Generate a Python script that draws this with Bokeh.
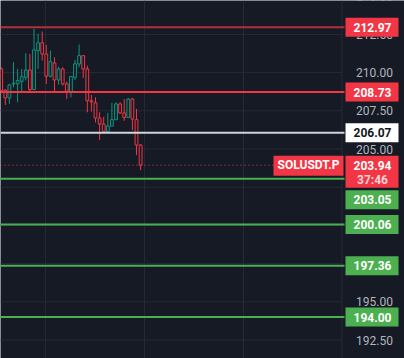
from bokeh.plotting import figure
from bokeh.models import Range1d, ColumnDataSource
from bokeh.core.properties import value
from bokeh.embed import file_html
from bokeh.resources import INLINE

# ---------------- data ----------------
symbol = "SOLUSDT.P"
countdown = "37:46"
last_price = 203.94
last_label = "203.94"

opens = [210.24, 208.86, 208.34, 209.26, 209.26, 209.43, 209.69, 210.17, 208.89, 211.44,
         211.95, 211.22, 209.76, 210.63, 209.52, 210.24, 209.26, 208.71, 209.69, 210.57,
         211.11, 210.24, 208.16, 208.03, 207.03, 206.63, 206.15, 206.50, 206.92, 207.95,
         207.36, 207.07, 208.27, 206.92, 205.26]
highs = [210.35, 208.90, 209.26, 210.68, 210.24, 210.24, 211.27, 211.22, 212.86, 212.54,
         212.69, 211.81, 211.44, 211.01, 210.39, 210.35, 209.41, 209.74, 210.83, 211.84,
         211.11, 210.46, 208.54, 208.38, 207.40, 207.11, 207.36, 208.01, 208.05, 208.05,
         208.27, 208.34, 208.34, 207.62, 205.32]
lows = [208.80, 207.88, 207.95, 209.04, 208.05, 208.78, 209.48, 208.75, 208.89, 210.24,
        210.79, 209.26, 209.69, 208.78, 209.21, 209.15, 208.27, 208.38, 209.52, 210.35,
        209.65, 207.40, 207.46, 206.74, 205.58, 206.15, 206.15, 206.50, 206.90, 207.29,
        206.85, 207.03, 206.24, 204.60, 203.62]
closes = [208.82, 208.34, 209.19, 209.30, 209.48, 209.74, 210.17, 208.89, 211.49, 211.95,
          211.22, 209.76, 210.72, 209.52, 210.24, 209.26, 208.78, 209.74, 210.57, 211.11,
          210.24, 208.16, 208.08, 207.03, 206.63, 206.15, 206.50, 206.92, 207.95, 207.36,
          207.07, 208.27, 206.96, 205.26, 203.94]

level_prices = [212.97, 208.73, 206.07, 203.05, 200.06, 197.36, 194.00]
level_labels = ["212.97", "208.73", "206.07", "203.05", "200.06", "197.36", "194.00"]

axis_ticks = [215.0, 212.5, 210.0, 207.5, 205.0, 202.5, 200.0, 197.5, 195.0, 192.5]
# 202.50 is hidden by the price labels in the reference
axis_tick_labels = ["215.00", "212.50", "210.00", "207.50", "205.00",
                    "", "200.00", "197.50", "195.00", "192.50"]

time_grid = [10.8, 34.95, 59.1]  # candle-index positions of the time grid lines

# ---------------- styles ----------------
BG = "#161a25"
GRID = "#262a36"
UP = "#089981"
DOWN = "#f23645"
AXIS_TEXT = "#b2b5be"
FONT = "Roboto"

level_line_colors = ["#b5303a", "#f23645", "#d1d4dc", "#4caf50", "#4caf50", "#4caf50", "#4caf50"]
level_box_colors = ["#f23645", "#f23645", "#ffffff", "#4caf50", "#4caf50", "#4caf50", "#4caf50"]
level_text_colors = ["#ffffff", "#ffffff", "#131722", "#ffffff", "#ffffff", "#ffffff", "#ffffff"]
level_label_shift_px = [0, 0, 0, 21, 0, 0, 0]  # pushed down to avoid the last-price label

Y0, Y1 = 191.29, 214.72
W, H = 404, 358
PX = H / (Y1 - Y0)
X0 = -0.171
X1 = X0 + W / 4.1

p = figure(width=W, height=H, x_range=Range1d(X0, X1), y_range=Range1d(Y0, Y1),
           output_backend="svg", toolbar_location=None, min_border=0,
           x_axis_location=None, y_axis_location=None,
           background_fill_color=BG, border_fill_color=BG, outline_line_color=None)
p.grid.visible = False
p.extra_x_ranges = {"px": Range1d(0, W)}

# grid
p.segment(x0=0, x1=342, y0=axis_ticks, y1=axis_ticks, x_range_name="px",
          line_color=GRID, line_width=1)
p.segment(x0=time_grid, x1=time_grid, y0=Y0, y1=Y1, line_color=GRID, line_width=1)
p.segment(x0=[341.5], x1=[341.5], y0=Y0, y1=Y1, x_range_name="px",
          line_color=GRID, line_width=1)

# candles
n = len(opens)
idx = list(range(n))
cols = [UP if c >= o else DOWN for o, c in zip(opens, closes)]
src = ColumnDataSource(dict(
    x=idx, o=opens, h=highs, l=lows, c=closes,
    top=[max(o, c) for o, c in zip(opens, closes)],
    bot=[min(o, c) for o, c in zip(opens, closes)],
    col=cols))
p.segment(x0="x", x1="x", y0="l", y1="h", line_color="col", line_width=1, source=src)
p.vbar(x="x", width=0.68, top="top", bottom="bot", fill_color=BG,
       line_color="col", line_width=1, source=src)

# last price dotted line
p.segment(x0=[0], x1=[273], y0=[last_price], y1=[last_price], x_range_name="px",
          line_color=DOWN, line_width=1, line_dash="1 3")

# level lines
p.segment(x0=0, x1=344, y0=level_prices, y1=level_prices, x_range_name="px",
          line_color=level_line_colors, line_width=2)

# axis tick labels
p.text(x=374, y=axis_ticks, text=axis_tick_labels, x_range_name="px",
       text_align="center", text_baseline="middle", text_color=AXIS_TEXT,
       text_font=value(FONT), text_font_size="12px")

# level label boxes
label_y = [pr - s / PX for pr, s in zip(level_prices, level_label_shift_px)]
p.rect(x=371.5, y=label_y, width=53, height=19, height_units="screen",
       x_range_name="px", fill_color=level_box_colors, line_color=None)
p.text(x=372, y=label_y, text=level_labels, x_range_name="px",
       text_align="center", text_baseline="middle", text_color=level_text_colors,
       text_font=value(FONT), text_font_size="12px", text_font_style="bold")

# last price box with countdown
p.rect(x=[371.5], y=[last_price - 6.6 / PX], width=53, height=32, height_units="screen",
       x_range_name="px", fill_color=DOWN, line_color=None)
p.text(x=[372], y=[last_price], text=[last_label], x_range_name="px",
       text_align="center", text_baseline="middle", text_color="#ffffff",
       text_font=value(FONT), text_font_size="12px", text_font_style="bold")
p.text(x=[372], y=[last_price], y_offset=[15], text=[countdown], x_range_name="px",
       text_align="center", text_baseline="middle", text_color="#fcd3d6",
       text_font=value(FONT), text_font_size="12px", text_font_style="bold")

# symbol label
p.rect(x=[308], y=[last_price - 0.6 / PX], width=70, height=20, height_units="screen",
       x_range_name="px", fill_color=DOWN, line_color=None)
p.text(x=[308], y=[last_price], text=[symbol], x_range_name="px",
       text_align="center", text_baseline="middle", text_color="#ffffff",
       text_font=value(FONT), text_font_size="12px", text_font_style="bold")

open("out.html", "w").write(file_html(p, INLINE))
